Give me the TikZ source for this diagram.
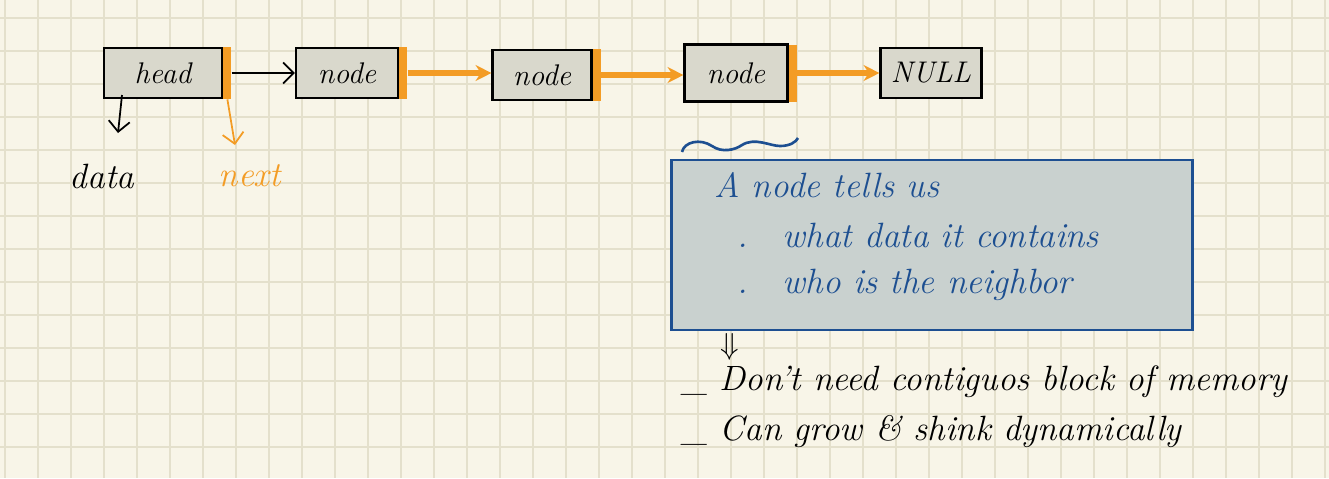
\documentclass[tikz,border=0pt]{standalone}
\usetikzlibrary{positioning,arrows.meta}
\definecolor{paper}{HTML}{F8F5E8}
\definecolor{gridc}{HTML}{E4E0CC}
\definecolor{boxfill}{HTML}{D9D8CC}
\definecolor{ptr}{HTML}{F39C25}
\definecolor{ink}{HTML}{1D4F91}
\definecolor{notefill}{HTML}{C9D1CF}
\tikzset{
  cell/.style={draw=black, line width=1.2pt, fill=boxfill, minimum height=1cm, inner sep=0pt, font=\fontsize{17}{19}\selectfont\itshape},
  nextbar/.style={fill=ptr, draw=none, minimum width=0.16cm, minimum height=1.04cm, inner sep=0pt},
  link/.style={-{Stealth[length=9pt,width=9pt]}, ptr, line width=3.5pt},
  hand/.style={font=\fontsize{20}{22}\selectfont\itshape, inner sep=1pt},
}
\begin{document}
\begin{tikzpicture}[x=0.02cm, y=-0.02cm]
  \fill[paper] (0,0) rectangle (1329,478);
  \useasboundingbox (0,0) rectangle (1329,478);
  % paper grid
  \foreach \gx in {5,38,...,1329} \draw[gridc, line width=1pt] (\gx,0) -- (\gx,478);
  \foreach \gy in {18,51,...,478} \draw[gridc, line width=1pt] (0,\gy) -- (1329,\gy);
  % list
  \node[cell, minimum width=2.36cm] (head) at (163,73) {head};
  \node[nextbar, right=0pt of head] (hb) {};
  \node[cell, minimum width=2.04cm] (n1) at (347,73) {node};
  \node[nextbar, right=0pt of n1] (b1) {};
  \node[cell, minimum width=1.98cm] (n2) at (542,75) {node};
  \node[nextbar, right=0pt of n2] (b2) {};
  \node[cell, minimum width=2.06cm, minimum height=1.14cm] (n3) at (736,73) {node};
  \node[nextbar, right=0pt of n3, minimum height=1.14cm] (b3) {};
  \node[cell, minimum width=2.02cm] (nil) at (931,73) {NULL};
  \draw[-{Straight Barb[length=6pt]}, line width=1pt] (hb.east) -- (hb.east -| n1.west);
  \draw[link] (b1.east) -- (b1.east -| n2.west);
  \draw[link] (b2.east) -- (b2.east -| n3.west);
  \draw[link] (b3.east) -- (b3.east -| nil.west);
  % labels
  \node[hand] (data) at (102,176) {data};
  \node[hand, ptr] (next) at (250,176) {next};
  \draw[-{Straight Barb[length=6pt]}, line width=1pt] (122,95) -- (118,133);
  \draw[-{Straight Barb[length=6pt]}, ptr, line width=1pt] (hb.south) -- (235,145);
  % note
  \draw[ink, line width=1.5pt] (682,152) .. controls (684,142) and (700,138) .. (712,146)
     .. controls (722,153) and (735,150) .. (742,145) .. controls (755,137) and (770,146) .. (780,146)
     .. controls (790,146) and (796,142) .. (798,138);
  \node[draw=ink, fill=notefill, line width=1.5pt, minimum width=10.42cm, minimum height=3.4cm, inner sep=0pt] (note) at (932,245) {};
  \node[hand, ink, anchor=west] (l1) at (712,185) {A node tells us};
  \node[hand, ink, anchor=west] (l2) at (735,235) {.\quad what data it contains};
  \node[hand, ink, anchor=west] (l3) at (735,285) {.\quad who is the neighbor};
  \node[font=\fontsize{18}{20}\selectfont] (dd) at (730,347) {$\Downarrow$};
  \node[hand, anchor=west] (p1) at (680,382) {\_ Don't need contiguos block of memory};
  \node[hand, anchor=west] (p2) at (680,432) {\_ Can grow \& shink dynamically};
\end{tikzpicture}
\end{document}
